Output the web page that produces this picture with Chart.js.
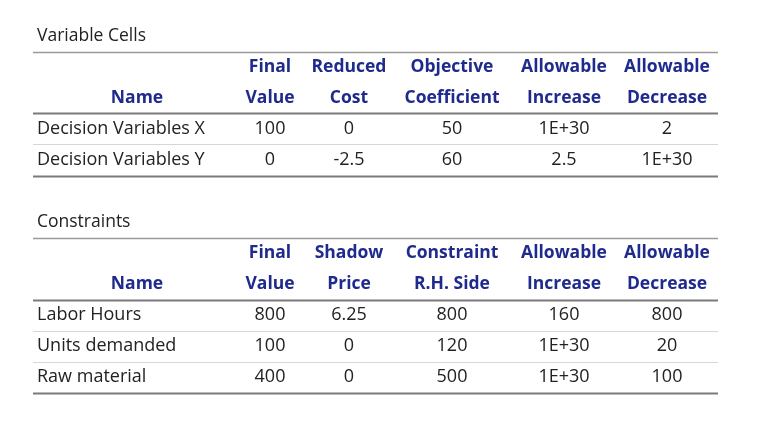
<!DOCTYPE html>
<html>
<head>
<meta charset="utf-8">
<script src="https://cdn.jsdelivr.net/npm/chart.js@4"></script>
<style>
  html, body { margin: 0; padding: 0; background: #fff; }
  #wrap { width: 774px; height: 422px; }
</style>
</head>
<body>
<div id="wrap"><canvas id="report"></canvas></div>
<script>
// Solver sensitivity report data
const varTitle = "Variable Cells";
const varHead1 = ["", "Final", "Reduced", "Objective", "Allowable", "Allowable"];
const varHead2 = ["Name", "Value", "Cost", "Coefficient", "Increase", "Decrease"];
const varNames = ["Decision Variables X", "Decision Variables Y"];
const varFinal = ["100", "0"];
const varReduced = ["0", "-2.5"];
const varObjective = ["50", "60"];
const varIncrease = ["1E+30", "2.5"];
const varDecrease = ["2", "1E+30"];

const conTitle = "Constraints";
const conHead1 = ["", "Final", "Shadow", "Constraint", "Allowable", "Allowable"];
const conHead2 = ["Name", "Value", "Price", "R.H. Side", "Increase", "Decrease"];
const conNames = ["Labor Hours", "Units demanded", "Raw material"];
const conFinal = ["800", "100", "400"];
const conShadow = ["6.25", "0", "0"];
const conRHS = ["800", "120", "500"];
const conIncrease = ["160", "1E+30", "1E+30"];
const conDecrease = ["800", "20", "100"];

// layout: column centres on the x scale, table spans
const colX = [137, 270, 349, 452, 564, 667];
const nameLeft = 37;
const tableLeft = 33, tableRight = 718;
const headColor = "#1e2a8c";
const font = "'Open Sans', sans-serif";

function drawTable(ctx, xs, ys, startRow, title, h1, h2, names, cols) {
    const x = v => xs.getPixelForValue(v);
    const y = v => ys.getPixelForValue(v);
    const nRows = names.length;
    ctx.textBaseline = "middle";

    ctx.fillStyle = "#222";
    ctx.font = "17.5px " + font;
    ctx.textAlign = "left";
    ctx.fillText(title, x(nameLeft), y(startRow));

    ctx.font = "bold 17.5px " + font;
    ctx.fillStyle = headColor;
    ctx.textAlign = "center";
    h1.forEach((t, i) => ctx.fillText(t, x(colX[i]), y(startRow + 1)));
    h2.forEach((t, i) => ctx.fillText(t, x(colX[i]), y(startRow + 2)));

    ctx.font = "18px " + font;
    ctx.fillStyle = "#222";
    names.forEach((n, r) => {
        ctx.textAlign = "left";
        ctx.fillText(n, x(nameLeft), y(startRow + 3 + r));
        ctx.textAlign = "center";
        cols.forEach((c, i) => ctx.fillText(c[r], x(colX[i + 1]), y(startRow + 3 + r)));
    });

    function rule(rv, color, w) {
        ctx.strokeStyle = color;
        ctx.lineWidth = w;
        ctx.beginPath();
        ctx.moveTo(x(tableLeft), Math.round(y(rv)) + 0.5);
        ctx.lineTo(x(tableRight), Math.round(y(rv)) + 0.5);
        ctx.stroke();
    }
    rule(startRow + 0.5, "#9a9a9a", 1.5);
    rule(startRow + 2.5, "#7a7a7a", 2);
    for (let r = 1; r < nRows; r++) rule(startRow + 2.5 + r, "#d6d6d6", 1);
    rule(startRow + 2.5 + nRows, "#7a7a7a", 2);
}

const tablePlugin = {
    id: "tablePlugin",
    afterDraw(chart) {
        const ctx = chart.ctx;
        const xs = chart.scales.x, ys = chart.scales.y;
        ctx.save();
        drawTable(ctx, xs, ys, 0, varTitle, varHead1, varHead2, varNames,
            [varFinal, varReduced, varObjective, varIncrease, varDecrease]);
        drawTable(ctx, xs, ys, 6, conTitle, conHead1, conHead2, conNames,
            [conFinal, conShadow, conRHS, conIncrease, conDecrease]);
        ctx.restore();
    }
};

new Chart(document.getElementById("report").getContext("2d"), {
    type: "scatter",
    data: { datasets: [{ data: [] }] },
    options: {
        responsive: true,
        maintainAspectRatio: false,
        animation: false,
        layout: { padding: 0 },
        scales: {
            x: { type: "linear", display: false, min: 0, max: 774 },
            y: { type: "linear", display: false, reverse: true, min: -36 / 31, max: (422 - 36) / 31 }
        },
        plugins: { legend: { display: false }, tooltip: { enabled: false } }
    },
    plugins: [tablePlugin]
});
</script>
</body>
</html>
